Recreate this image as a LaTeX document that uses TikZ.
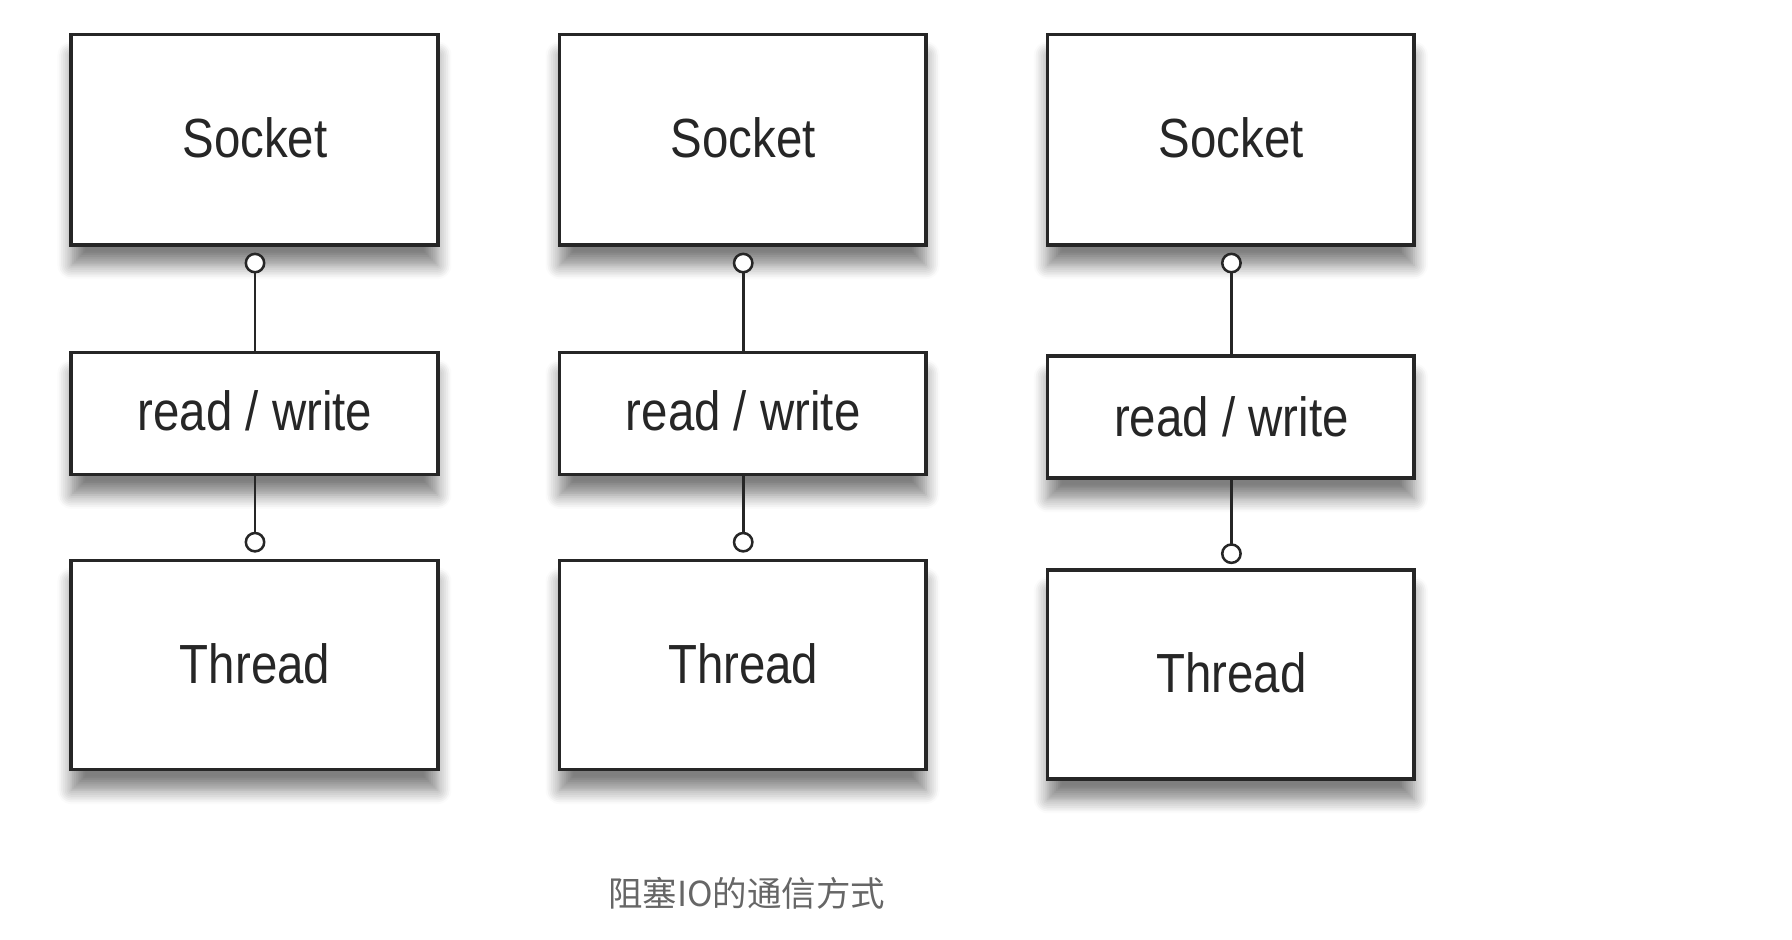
\documentclass[tikz,border=0pt]{standalone}
\usepackage{fontspec}
\setmainfont{Liberation Sans}
\newfontfamily\cjk{Noto Sans CJK SC}
\usetikzlibrary{shadows.blur}
\begin{document}
\begin{tikzpicture}[x=0.5pt,y=-0.5pt,
  box/.style={draw=black!85,line width=1.6pt,fill=white,
    blur shadow={shadow xshift=0pt,shadow yshift=-9pt,shadow blur steps=8,shadow blur radius=6pt,shadow opacity=50}},
  lbl/.style={font=\fontsize{24}{28}\selectfont,text=black!85,xscale=0.86},
  conn/.style={line width=1.2pt,draw=black!85},
  ring/.style={draw=black!85,line width=1.1pt,fill=white}]
\useasboundingbox (0,0) rectangle (1560,818);
\foreach \c/\x/\dy in {a/62/0,b/487/0,c/912/1}{
  \path[box] (\x,30) rectangle ++(319,183);
  \node[lbl] (s\c) at (\x+160,120) {Socket};
  \path[box] (\x,{307+3*\dy}) rectangle ++(319,106);
  \node[lbl] (r\c) at (\x+160,{358+5*\dy}) {read / write};
  \path[box] (\x,{488+8*\dy}) rectangle ++(319,182);
  \node[lbl] (t\c) at (\x+160,{578+8*\dy}) {Thread};
  \coordinate (p1\c) at (\x+160,229);
  \coordinate (p2\c) at (\x+160,{472+10*\dy});
  \draw[conn] (p1\c) -- (\x+160,{307+3*\dy});
  \draw[conn] (\x+160,{413+3*\dy}) -- (p2\c);
  \draw[ring] (p1\c) circle (8);
  \draw[ring] (p2\c) circle (8);
}
\node[font=\cjk\fontsize{15}{18}\selectfont,text=black!60] (cap) at (650,778) {阻塞IO的通信方式};
\end{tikzpicture}
\end{document}
